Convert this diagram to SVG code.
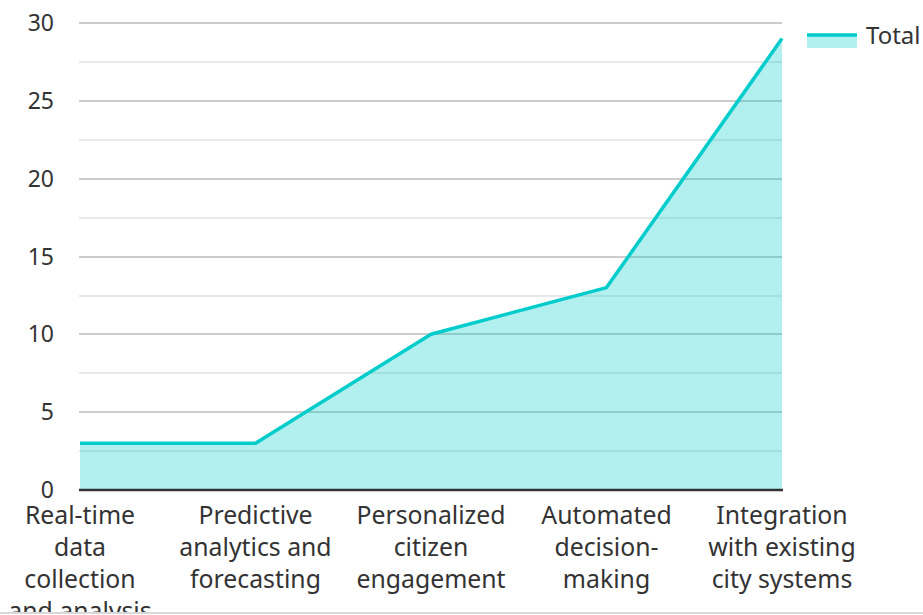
<svg xmlns="http://www.w3.org/2000/svg" width="923" height="615" viewBox="0 0 923 615">
<style>
text{font-family:"Noto Sans","Open Sans","DejaVu Sans",sans-serif;font-size:24px;fill:#333}
.y{text-anchor:end;font-size:23px}
.x{text-anchor:middle;font-size:24.8px}
.maj{stroke:#cccccc;stroke-width:2}
.min{stroke:#e8e8e8;stroke-width:2}
</style>
<defs><clipPath id="c"><rect x="0" y="0" width="923" height="612"/></clipPath></defs>
<rect width="923" height="615" fill="#fff"/>
<g id="grid">
<line class="min" x1="79" y1="62" x2="782" y2="62"/>
<line class="min" x1="79" y1="140" x2="782" y2="140"/>
<line class="min" x1="79" y1="218" x2="782" y2="218"/>
<line class="min" x1="79" y1="296" x2="782" y2="296"/>
<line class="min" x1="79" y1="373" x2="782" y2="373"/>
<line class="min" x1="79" y1="451" x2="782" y2="451"/>
<line class="maj" x1="79" y1="23" x2="782" y2="23"/>
<line class="maj" x1="79" y1="101" x2="782" y2="101"/>
<line class="maj" x1="79" y1="179" x2="782" y2="179"/>
<line class="maj" x1="79" y1="257" x2="782" y2="257"/>
<line class="maj" x1="79" y1="334" x2="782" y2="334"/>
<line class="maj" x1="79" y1="412" x2="782" y2="412"/>
</g>
<g id="yaxis">
<text class="y" x="54" y="31">30</text>
<text class="y" x="54" y="109">25</text>
<text class="y" x="54" y="187">20</text>
<text class="y" x="54" y="265">15</text>
<text class="y" x="54" y="342">10</text>
<text class="y" x="54" y="420">5</text>
<text class="y" x="54" y="498">0</text>
</g>
<g id="series">
<path d="M80,443.3 L255.5,443.3 L431,334.3 L606.5,287.6 L782,38.6 L782,490 L80,490 Z" fill="#00cccc" fill-opacity="0.3"/>
<polyline points="80,443.3 255.5,443.3 431,334.3 606.5,287.6 782,38.6" fill="none" stroke="#00cccc" stroke-width="3.5" stroke-linejoin="round"/>
</g>
<line id="axis" x1="79" y1="490" x2="783" y2="490" stroke="#333" stroke-width="2.5"/>
<g id="xlabels" clip-path="url(#c)">
<text class="x" x="80" y="524">Real-time</text>
<text class="x" x="80" y="556">data</text>
<text class="x" x="80" y="588">collection</text>
<text class="x" x="80" y="620">and analysis</text>
<text class="x" x="255.5" y="524">Predictive</text>
<text class="x" x="255.5" y="556">analytics and</text>
<text class="x" x="255.5" y="588">forecasting</text>
<text class="x" x="431" y="524">Personalized</text>
<text class="x" x="431" y="556">citizen</text>
<text class="x" x="431" y="588">engagement</text>
<text class="x" x="606.5" y="524">Automated</text>
<text class="x" x="606.5" y="556">decision-</text>
<text class="x" x="606.5" y="588">making</text>
<text class="x" x="782" y="524">Integration</text>
<text class="x" x="782" y="556">with existing</text>
<text class="x" x="782" y="588">city systems</text>
</g>
<g id="legend">
<rect x="807" y="35" width="50" height="13" fill="#00cccc" fill-opacity="0.3"/>
<line x1="807" y1="35" x2="857" y2="35" stroke="#00cccc" stroke-width="3.5"/>
<text x="866" y="44">Total</text>
</g>
<line x1="0" y1="613" x2="923" y2="613" stroke="#d9d9d9" stroke-width="2"/>
</svg>
